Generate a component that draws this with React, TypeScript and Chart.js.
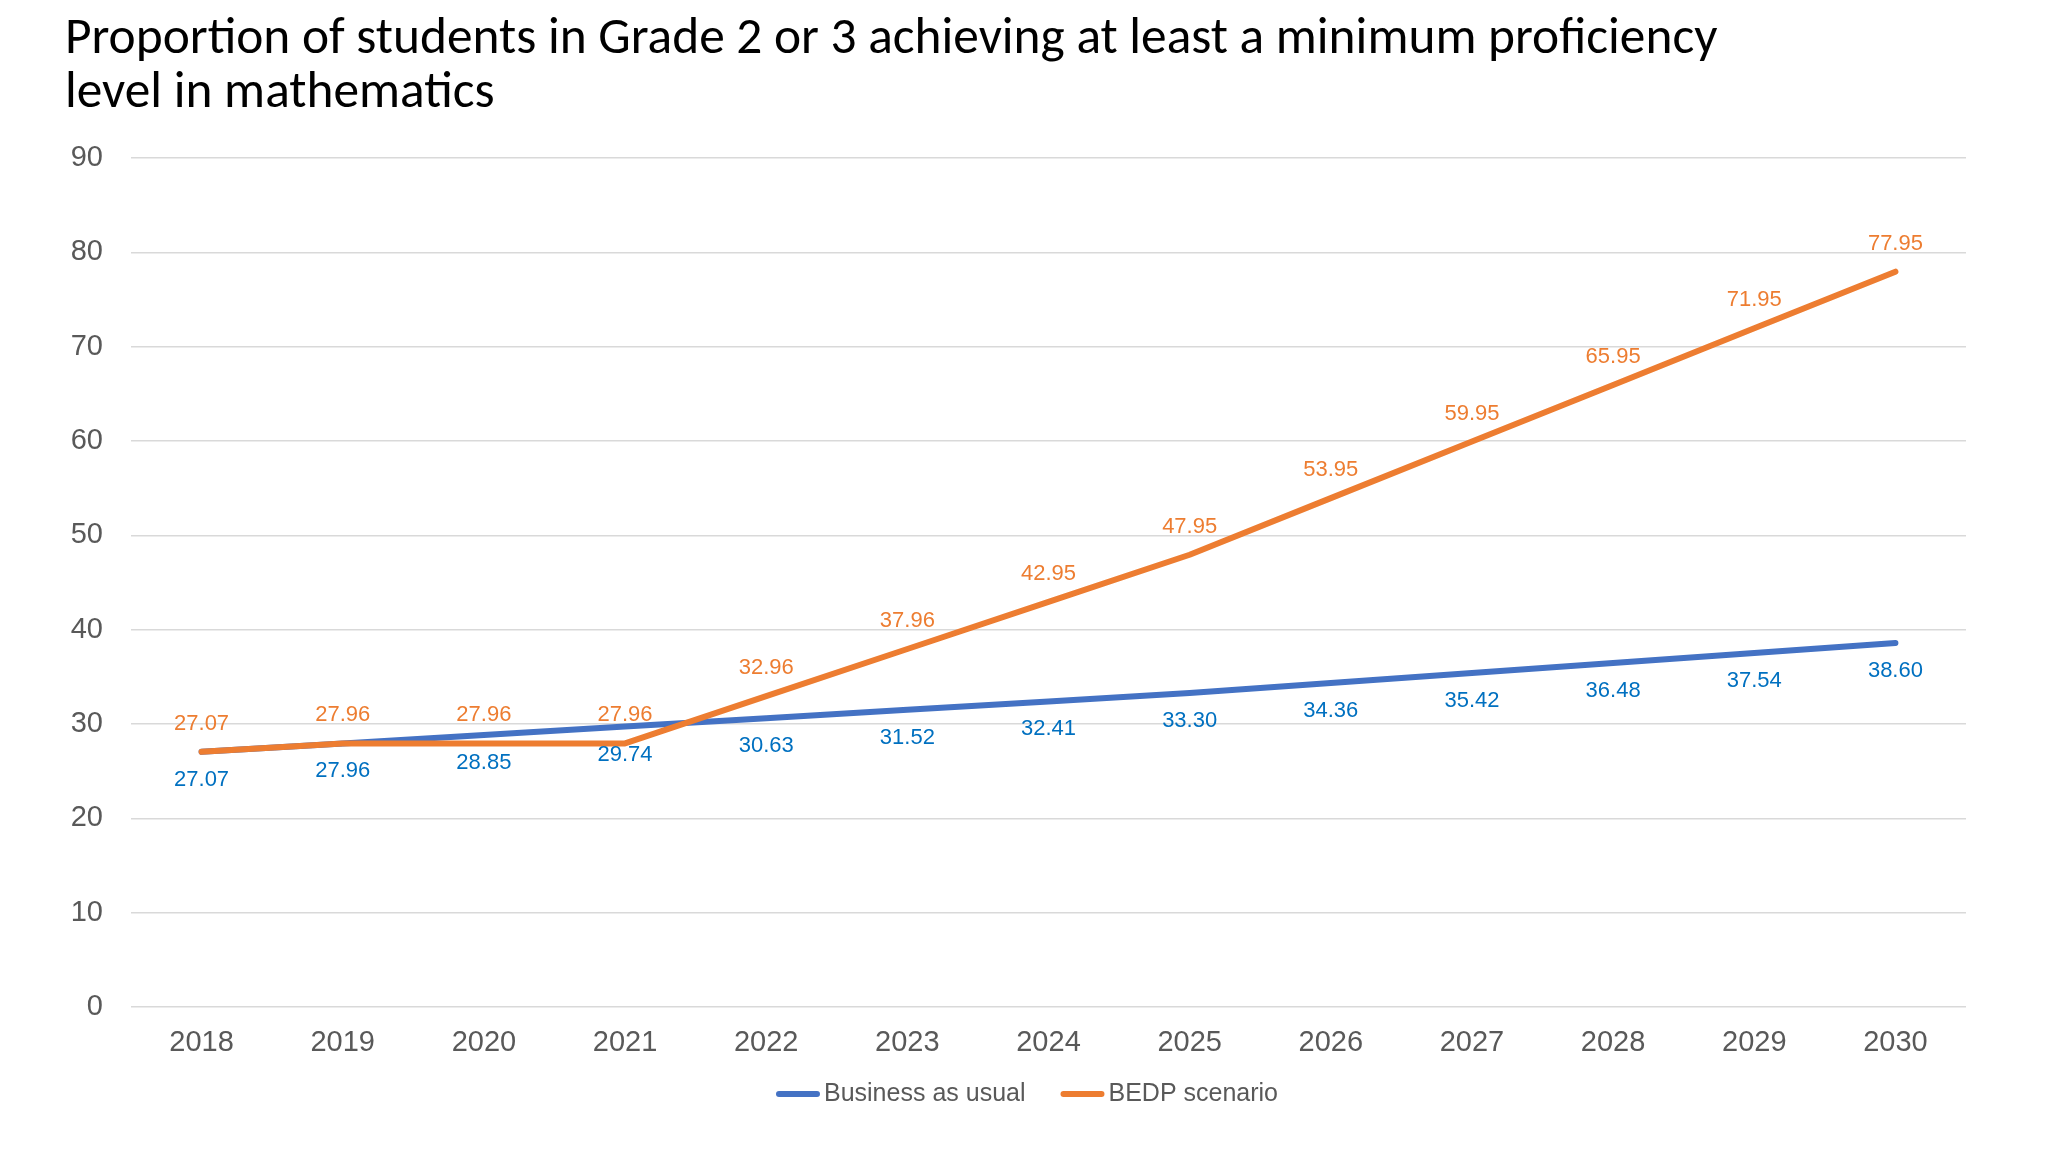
import React, { useEffect, useRef } from 'react';
import { Chart, registerables } from 'chart.js';

Chart.register(...registerables);

const titleLines = [
  'Proportion of students in Grade 2 or 3 achieving at least a minimum proficiency',
  'level in mathematics',
];
const years = ['2018', '2019', '2020', '2021', '2022', '2023', '2024', '2025', '2026', '2027', '2028', '2029', '2030'];
const businessAsUsual = [27.07, 27.96, 28.85, 29.74, 30.63, 31.52, 32.41, 33.3, 34.36, 35.42, 36.48, 37.54, 38.6];
const bedpScenario = [27.07, 27.96, 27.96, 27.96, 32.96, 37.96, 42.95, 47.95, 53.95, 59.95, 65.95, 71.95, 77.95];
const seriesNames = ['Business as usual', 'BEDP scenario'];
const yMin = 0;
const yMax = 90;
const yStep = 10;

const SANS = '"Liberation Sans", Arial, sans-serif';
const TITLE_FONT = 'Carlito, Lato, "Open Sans", sans-serif';

export default function App() {
  const ref = useRef<HTMLCanvasElement>(null);

  useEffect(() => {
    document.body.style.margin = '0';
    const canvas = ref.current;
    if (!canvas) return;

    const labelStyles = [
      { color: '#0070C0', offset: 28 },
      { color: '#ED7D31', offset: -28 },
    ];

    const titlePlugin = {
      id: 'titleText',
      afterDraw(chart: any) {
        const ctx = chart.ctx as CanvasRenderingContext2D;
        ctx.save();
        ctx.font = `50px ${TITLE_FONT}`;
        const w = ctx.measureText(titleLines[0]).width;
        const size = (50 * 1653) / w;
        ctx.font = `${size}px ${TITLE_FONT}`;
        ctx.fillStyle = '#000000';
        ctx.textAlign = 'left';
        ctx.textBaseline = 'alphabetic';
        ctx.fillText(titleLines[0], 65, 53);
        ctx.fillText(titleLines[1], 65, 107);
        ctx.restore();
      },
    };

    const legendPlugin = {
      id: 'lineLegend',
      afterDraw(chart: any) {
        const ctx = chart.ctx as CanvasRenderingContext2D;
        ctx.save();
        ctx.font = `25px ${SANS}`;
        ctx.textBaseline = 'middle';
        ctx.textAlign = 'left';
        const swatch = 44;
        const gapText = 4;
        const gapItem = 35;
        const items = chart.data.datasets.map((ds: any) => ({
          text: ds.label as string,
          color: ds.borderColor as string,
          w: ctx.measureText(ds.label).width,
        }));
        const total =
          items.reduce((s: number, it: any) => s + swatch + gapText + it.w, 0) + gapItem * (items.length - 1);
        let x = 1027 - total / 2;
        const y = 1094;
        items.forEach((it: any) => {
          ctx.strokeStyle = it.color;
          ctx.lineWidth = 6;
          ctx.lineCap = 'round';
          ctx.beginPath();
          ctx.moveTo(x + 3, y);
          ctx.lineTo(x + swatch - 3, y);
          ctx.stroke();
          ctx.fillStyle = '#595959';
          ctx.fillText(it.text, x + swatch + gapText, y);
          x += swatch + gapText + it.w + gapItem;
        });
        ctx.restore();
      },
    };

    const valueLabelPlugin = {
      id: 'valueLabels',
      afterDatasetsDraw(chart: any) {
        const ctx = chart.ctx as CanvasRenderingContext2D;
        ctx.save();
        ctx.font = `22px ${SANS}`;
        ctx.textAlign = 'center';
        ctx.textBaseline = 'middle';
        chart.data.datasets.forEach((ds: any, i: number) => {
          const meta = chart.getDatasetMeta(i);
          const st = labelStyles[i];
          ctx.fillStyle = st.color;
          meta.data.forEach((pt: any, j: number) => {
            const v = ds.data[j] as number;
            ctx.fillText(v.toFixed(2), pt.x, pt.y + st.offset);
          });
        });
        ctx.restore();
      },
    };

    const chart = new Chart(canvas, {
      type: 'line',
      data: {
        labels: years,
        datasets: [
          {
            label: seriesNames[0],
            data: businessAsUsual,
            borderColor: '#4472C4',
            backgroundColor: '#4472C4',
            borderWidth: 6,
            pointRadius: 0,
            pointHoverRadius: 0,
            borderCapStyle: 'round',
            borderJoinStyle: 'round',
            tension: 0,
            order: 1,
          },
          {
            label: seriesNames[1],
            data: bedpScenario,
            borderColor: '#ED7D31',
            backgroundColor: '#ED7D31',
            borderWidth: 6,
            pointRadius: 0,
            pointHoverRadius: 0,
            borderCapStyle: 'round',
            borderJoinStyle: 'round',
            tension: 0,
            order: 0,
          },
        ],
      },
      options: {
        responsive: false,
        animation: false,
        devicePixelRatio: 1,
        layout: { padding: { top: 158, left: 65, right: 82, bottom: 74 } },
        plugins: {
          title: { display: false },
          tooltip: { enabled: false },
          legend: { display: false },
        },
        scales: {
          x: {
            offset: true,
            grid: { display: false, drawTicks: false },
            border: { display: false },
            ticks: { color: '#595959', font: { size: 29, family: SANS }, padding: 18, maxRotation: 0 },
          },
          y: {
            min: yMin,
            max: yMax,
            ticks: { stepSize: yStep, color: '#595959', font: { size: 29, family: SANS }, padding: 28 },
            grid: { color: '#d9d9d9', lineWidth: 1.5, drawTicks: false },
            border: { display: false },
            afterFit: (scale: any) => {
              scale.width = 66;
            },
          },
        },
      },
      plugins: [titlePlugin, valueLabelPlugin, legendPlugin],
    } as any);

    return () => chart.destroy();
  }, []);

  return <canvas ref={ref} width={2048} height={1152} style={{ display: 'block', width: 2048, height: 1152 }} />;
}
